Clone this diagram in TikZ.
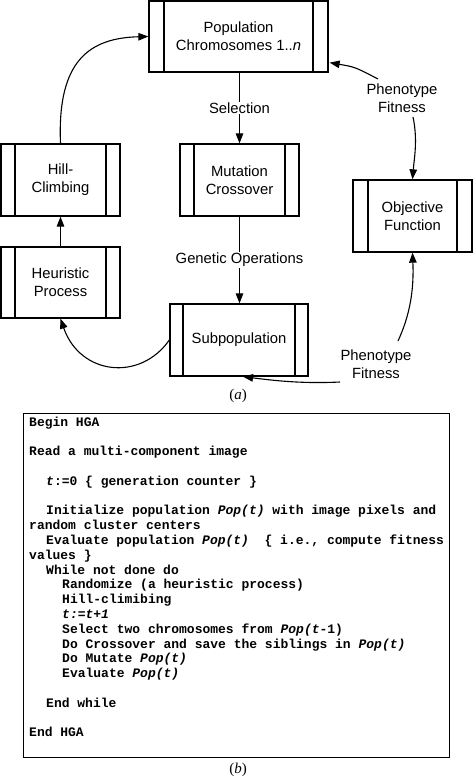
\documentclass[tikz,border=0pt]{standalone}
\usepackage{fontspec}
\setmainfont{Liberation Sans}
\newfontfamily\codefont{Liberation Mono}
\newfontfamily\capfont{Liberation Serif}
\usetikzlibrary{arrows.meta,calc}
\tikzset{barw/.store in=\barw, barw=15pt}
\begin{document}
\begin{tikzpicture}[x=1pt,y=-1pt,
  box/.style={draw, line width=1.3pt, align=center, inner sep=0pt,
    font=\fontsize{14.8}{18}\selectfont,
    path picture={\draw[line width=1.3pt]
      ([xshift=\barw]path picture bounding box.north west) -- ([xshift=\barw]path picture bounding box.south west)
      ([xshift=-\barw]path picture bounding box.north east) -- ([xshift=-\barw]path picture bounding box.south east);}},
  arr/.style={line width=1.1pt, -{Triangle[length=10pt,width=7.5pt]}},
  lab/.style={font=\fontsize{14.8}{18}\selectfont, align=center, inner sep=1pt},
  code/.style={anchor=base west, inner sep=0pt, font=\codefont\bfseries\fontsize{13}{14.8}\selectfont},
  captext/.style={font=\capfont\fontsize{15}{18}\selectfont}]
\useasboundingbox (0,0) rectangle (474,779);

% boxes
\node[box, barw=15pt, minimum width=179pt, minimum height=71pt] (pop) at (238.5,36.5) {Population\\Chromosomes 1..\textit{n}};
\node[box, barw=14pt, minimum width=119pt, minimum height=72pt] (hill) at (60.5,180) {Hill-\\Climbing};
\node[box, barw=14pt, minimum width=119pt, minimum height=72pt] (mut) at (239.5,180) {Mutation\\Crossover};
\node[box, barw=15pt, minimum width=119pt, minimum height=72pt] (obj) at (412.5,216) {Objective\\Function};
\node[box, barw=14pt, minimum width=119pt, minimum height=71pt] (heur) at (60.5,282.5) {Heuristic\\Process};
\node[box, barw=13pt, minimum width=138pt, minimum height=72pt] (sub) at (239,340) {Subpopulation};

% labels
\node[lab] (pf1) at (402,98) {Phenotype\\Fitness};
\node[lab] (pf2) at (376,364) {Phenotype\\Fitness};
\coordinate (pf1a) at (378,79);
\coordinate (pf1b) at (413,117);
\coordinate (pf2a) at (340,382);
\coordinate (pf2b) at (398,341);

% connectors
\draw[arr] (mut.north |- pop.south) -- node[lab, fill=white] (sel) {Selection} (mut.north);
\draw[arr] (mut.south) -- node[lab, fill=white] (gen) {Genetic Operations} (mut.south |- sub.north);
\draw[arr] (heur.north) -- (hill.south);
\draw[arr] (hill.north) .. controls (57,60) and (90,38) .. (pop.west);
\draw[arr] (pf1a) .. controls (355,67) .. ($(pop.south east)+(1,-10)$);
\draw[arr] (pf1b) .. controls (418,140) and (414,160) .. (obj.north);
\draw[arr] (pf2a) .. controls (300,384) and (270,380) .. ([xshift=4pt]sub.south);
\draw[arr] (pf2b) .. controls (410,315) and (414,290) .. (obj.south);
\draw[arr] (sub.west) .. controls (140,382) and (80,375) .. (heur.south);

\node[captext] (capa) at (238,396) {(\textit{a})};

% code box
\node[draw, line width=1pt, minimum width=426pt, minimum height=344pt, inner sep=0pt] (codebox) at (236,585) {};
\node[code] (c0) at (29,426) {Begin HGA};
\node[code] (c2) at (29,455.6) {Read a multi-component image};
\node[code] (c4) at (46,485.2) {\textit{t}:=0~\{ generation counter \}};
\node[code] (c6) at (46,514.8) {Initialize population \textit{Pop(t)} with image pixels and};
\node[code] (c7) at (29,529.6) {random cluster centers};
\node[code] (c8) at (46,544.4) {Evaluate population \textit{Pop(t)}~~\{ i.e., compute fitness};
\node[code] (c9) at (29,559.2) {values \}};
\node[code] (c10) at (46,574) {While not done do};
\node[code] (c11) at (62,588.8) {Randomize (a heuristic process)};
\node[code] (c12) at (62,603.6) {Hill-climibing};
\node[code] (c13) at (62,618.4) {\textit{t:=t+1}};
\node[code] (c14) at (62,633.2) {Select two chromosomes from \textit{Pop(t-}1)};
\node[code] (c15) at (62,648) {Do Crossover and save the siblings in \textit{Pop(t)}};
\node[code] (c16) at (62,662.8) {Do Mutate \textit{Pop(t)}};
\node[code] (c17) at (62,677.6) {Evaluate \textit{Pop(t)}};
\node[code] (c19) at (46,707.2) {End while};
\node[code] (c21) at (29,736.8) {End HGA};

\node[captext] (capb) at (238,770) {(\textit{b})};
\end{tikzpicture}
\end{document}
